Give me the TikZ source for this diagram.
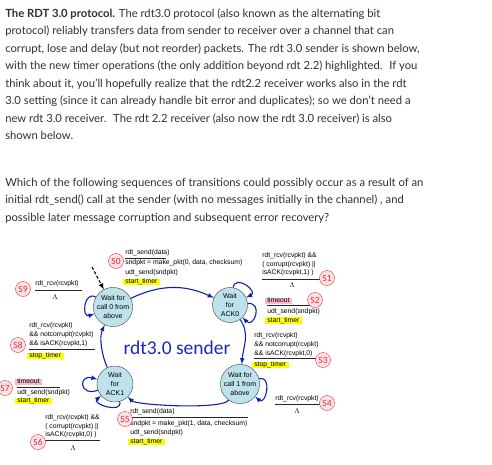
\documentclass[tikz,border=0pt]{standalone}
\usepackage{fontspec}
\setmainfont{Lato}
\newfontfamily\arialfont{Liberation Sans}
\newfontfamily\calibrifont{Carlito}
\usetikzlibrary{positioning}
\definecolor{canvastext}{RGB}{40,50,60}
\definecolor{fsmblue}{RGB}{15,35,170}
\definecolor{statefill}{RGB}{190,226,236}
\definecolor{markred}{RGB}{225,45,55}
\definecolor{markfill}{RGB}{253,226,229}
\definecolor{timerhl}{RGB}{255,255,0}
\definecolor{timeouthl}{RGB}{248,184,208}
\definecolor{sendertext}{RGB}{25,40,190}

\begin{document}
\begin{tikzpicture}[x=1pt, y=-1pt, -latex, semithick,
  para/.style={anchor=base west, inner sep=0, font=\fontsize{11.25}{13}\selectfont, text=canvastext},
  state/.style={circle, fill=statefill, draw=black!75, thin, minimum size=37pt, inner sep=0, align=center, font=\arialfont\fontsize{7}{8.6}\selectfont},
  lbl/.style={anchor=west, inner sep=0, text height=5pt, text depth=1.6pt, font=\arialfont\fontsize{6.8}{8}\selectfont},
  timerbox/.style={lbl, fill=timerhl, inner xsep=2.5pt, xshift=-2.5pt},
  timeoutbox/.style={lbl, fill=timeouthl, inner xsep=2.5pt, xshift=-2.5pt},
  lam/.style={inner sep=0, font=\fontsize{7.5}{7.5}\selectfont},
  smark/.style={circle, draw=markred, fill=markfill, text=markred, thin, minimum size=15pt, inner sep=0, font=\calibrifont\fontsize{9.5}{9.5}\selectfont},
  bar/.style={-, draw=black!85, line width=0.8pt},
  trans/.style={draw=fsmblue, line width=1.1pt}]

  \useasboundingbox (0,0) rectangle (492,464);

  % question text
  \node[para] (P1) at (5,17) {\textbf{The RDT 3.0 protocol.} The rdt3.0 protocol (also known as the alternating bit};
  \node[para] (P2) at (5,34.5) {protocol) reliably transfers data from sender to receiver over a channel that can};
  \node[para] (P3) at (5,52) {corrupt, lose and delay (but not reorder) packets. The rdt 3.0 sender is shown below,};
  \node[para] (P4) at (5,69.5) {with the new timer operations (the only addition beyond rdt 2.2) highlighted.~ If you};
  \node[para] (P5) at (5,87) {think about it, you'll hopefully realize that the rdt2.2 receiver works also in the rdt};
  \node[para] (P6) at (5,104.5) {3.0 setting (since it can already handle bit error and duplicates); so we don't need a};
  \node[para] (P7) at (5,122) {new rdt 3.0 receiver.~ The rdt 2.2 receiver (also now the rdt 3.0 receiver) is also};
  \node[para] (P8) at (5,139.5) {shown below.};
  \node[para] (Q1) at (5,186) {Which of the following sequences of transitions could possibly occur as a result of an};
  \node[para] (Q2) at (5,203.5) {initial rdt\_send() call at the sender (with no messages initially in the channel) , and};
  \node[para] (Q3) at (5,221) {possible later message corruption and subsequent error recovery?};

  % states
  \node[state] (CALL0) at (113,307) {Wait for\\call 0 from\\above};
  \node[state, minimum size=35pt] (ACK0) at (230,305) {Wait\\for\\ACK0};
  \node[state, minimum size=39pt] (CALL1) at (240,384) {Wait for\\call 1 from\\above};
  \node[state, minimum size=36pt] (ACK1) at (115,384) {Wait\\for\\ACK1};
  \node[inner sep=0, text=sendertext, font=\calibrifont\fontsize{19.5}{20}\selectfont] (TITLE) at (177,348) {rdt3.0 sender};

  % transitions
  \coordinate (INIT) at (92,267);
  \draw[dashed, dash pattern=on 3pt off 2pt, line width=1.1pt] (INIT) -- (CALL0);
  \path (CALL0) edge[trans, bend left=25] (ACK0);
  \path (ACK0) edge[trans, out=-55, in=85] (CALL1);
  \path (CALL1) edge[trans, out=235, in=-45, looseness=0.3] (ACK1);
  \path (ACK1) edge[trans, out=115, in=245, looseness=0.8] (CALL0);
  \path (CALL0) edge[trans, loop, out=150, in=200, min distance=14pt] (CALL0);
  \path (ACK0) edge[trans, loop, out=80, in=25, min distance=14pt] (ACK0);
  \path (ACK0) edge[trans, loop, out=5, in=-45, min distance=16pt] (ACK0);
  \path (CALL1) edge[trans, loop, out=15, in=-40, min distance=14pt] (CALL1);
  \path (ACK1) edge[trans, loop, out=200, in=165, min distance=20pt] (ACK1);
  \path (ACK1) edge[trans, loop, out=-75, in=-140, min distance=13pt] (ACK1);

  % S0
  \node[lbl] (S0EV) at (125,253) {rdt\_send(data)};
  \node[lbl] (S0A1) at ([yshift=-10pt]S0EV.west) {sndpkt = make\_pkt(0, data, checksum)};
  \node[lbl] (S0A2) at ([yshift=-9.5pt]S0A1.west) {udt\_send(sndpkt)};
  \node[timerbox] (S0A3) at ([yshift=-9.5pt]S0A2.west) {start\_timer};
  \draw[bar] ([yshift=-5pt]S0EV.west) -- ++(41,0);
  % S1
  \node[lbl] (S1E1) at (262,256) {rdt\_rcv(rcvpkt) \&\&};
  \node[lbl] (S1E2) at ([yshift=-8.5pt]S1E1.west) {( corrupt(rcvpkt) ||};
  \node[lbl] (S1E3) at ([yshift=-8.5pt]S1E2.west) {isACK(rcvpkt,1) )};
  \draw[bar] ([yshift=-6pt]S1E3.west) -- ++(58,0);
  \node[lam] (S1L) at (292,285.5) {$\Lambda$};
  % S2
  \node[timeoutbox] (S2EV) at (267,301) {timeout};
  \node[lbl] (S2A1) at (267,312) {udt\_send(sndpkt)};
  \node[timerbox] (S2A2) at ([yshift=-8.5pt]S2A1.west) {start\_timer};
  \draw[bar] (267,305.5) -- ++(43,0);
  % S3
  \node[lbl] (S3E1) at (254,336) {rdt\_rcv(rcvpkt)};
  \node[lbl] (S3E2) at ([yshift=-9pt]S3E1.west) {\&\& notcorrupt(rcvpkt)};
  \node[lbl] (S3E3) at ([yshift=-9pt]S3E2.west) {\&\& isACK(rcvpkt,0)};
  \draw[bar] ([yshift=-4.5pt]S3E3.west) -- ++(66,0);
  \node[timerbox] (S3A1) at ([yshift=-11pt]S3E3.west) {stop\_timer};
  % S4
  \node[lbl] (S4EV) at (275,399) {rdt\_rcv(rcvpkt)};
  \draw[bar] ([yshift=-5.5pt]S4EV.west) -- ++(47,0);
  \node[lam] (S4L) at (297,411) {$\Lambda$};
  % S5
  \node[lbl] (S5EV) at (130,412) {rdt\_send(data)};
  \draw[bar] ([yshift=-5.5pt]S5EV.west) -- ++(118,0);
  \node[lbl] (S5A1) at ([yshift=-12pt]S5EV.west) {sndpkt = make\_pkt(1, data, checksum)};
  \node[lbl] (S5A2) at ([yshift=-9pt]S5A1.west) {udt\_send(sndpkt)};
  \node[timerbox] (S5A3) at ([yshift=-9pt]S5A2.west) {start\_timer};
  % S6
  \node[lbl] (S6E1) at (45,418) {rdt\_rcv(rcvpkt) \&\&};
  \node[lbl] (S6E2) at ([yshift=-8.5pt]S6E1.west) {( corrupt(rcvpkt) ||};
  \node[lbl] (S6E3) at ([yshift=-8.5pt]S6E2.west) {isACK(rcvpkt,0) )};
  \draw[bar] ([yshift=-5pt]S6E3.west) -- ++(55,0);
  \node[lam] (S6L) at (73,448.5) {$\Lambda$};
  % S7
  \node[timeoutbox] (S7EV) at (17,382) {timeout};
  \draw[bar] (17,387) -- ++(43,0);
  \node[lbl] (S7A1) at (17,392.5) {udt\_send(sndpkt)};
  \node[timerbox] (S7A2) at ([yshift=-8.5pt]S7A1.west) {start\_timer};
  % S8
  \node[lbl] (S8E1) at (29,326) {rdt\_rcv(rcvpkt)};
  \node[lbl] (S8E2) at ([yshift=-9pt]S8E1.west) {\&\& notcorrupt(rcvpkt)};
  \node[lbl] (S8E3) at ([yshift=-9pt]S8E2.west) {\&\& isACK(rcvpkt,1)};
  \draw[bar] ([yshift=-5pt]S8E3.west) -- ++(66,0);
  \node[timerbox] (S8A1) at ([yshift=-12pt]S8E3.west) {stop\_timer};
  % S9
  \node[lbl] (S9EV) at (35,284) {rdt\_rcv(rcvpkt)};
  \draw[bar] ([yshift=-6pt]S9EV.west) -- ++(47,0);
  \node[lam] (S9L) at (55,297.5) {$\Lambda$};

  % transition markers
  \node[smark] (M0) at (116,261) {S0};
  \node[smark] (M1) at (327,278) {S1};
  \node[smark] (M2) at (315,300) {S2};
  \node[smark] (M3) at (323,360) {S3};
  \node[smark] (M4) at (327,403) {S4};
  \node[smark] (M5) at (125,419) {S5};
  \node[smark] (M6) at (38,442) {S6};
  \node[smark] (M7) at (5,388) {S7};
  \node[smark] (M8) at (18,345) {S8};
  \node[smark] (M9) at (23,289) {S9};
\end{tikzpicture}
\end{document}
